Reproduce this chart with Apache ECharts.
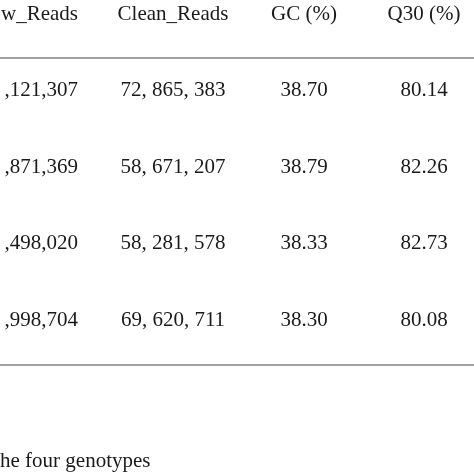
<!DOCTYPE html>
<html><head><meta charset="utf-8">
<script src="https://cdn.jsdelivr.net/npm/echarts@6/dist/echarts.min.js"></script>
<style>html,body{margin:0;padding:0;background:#fff}#c{width:474px;height:474px}</style>
</head><body><div id="c"></div>
<script>
const headers = ["w_Reads", "Clean_Reads", "GC (%)", "Q30 (%)"];
const rawReads = [",121,307", ",871,369", ",498,020", ",998,704"];
const cleanReads = ["72, 865, 383", "58, 671, 207", "58, 281, 578", "69, 620, 711"];
const gcValues = ["38.70", "38.79", "38.33", "38.30"];
const q30Values = ["80.14", "82.26", "82.73", "80.08"];
const caption = "he four genotypes";

const font = '"Liberation Serif","Times New Roman",serif';
const colX = [78, 173, 304, 424];
const colAlign = ["right", "center", "center", "center"];
const headerY = 14, rowY = [90, 167, 243, 320];
const g = [];
function txt(s, x, y, align) {
  g.push({type:'text', x:x, y:y, style:{text:s, fontFamily:font, fontSize:21, fill:'#1a1a1a', align:align, verticalAlign:'middle'}});
}
headers.forEach((h,i)=>txt(h, colX[i], headerY, colAlign[i]));
const cols = [rawReads, cleanReads, gcValues, q30Values];
cols.forEach((col,i)=>col.forEach((v,r)=>txt(v, colX[i], rowY[r], colAlign[i])));
[58, 365].forEach(y=>g.push({type:'line', shape:{x1:0,y1:y,x2:474,y2:y}, style:{stroke:'#444', lineWidth:1.2}}));
txt(caption, 0, 461, 'left');

const chart = echarts.init(document.getElementById('c'));
chart.setOption({animation:false, backgroundColor:'#fff', graphic:g});
</script></body></html>
